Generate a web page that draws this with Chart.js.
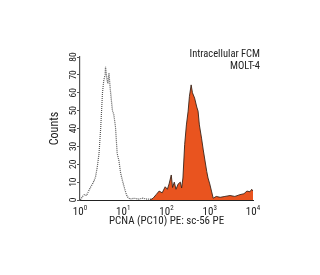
<!DOCTYPE html>
<html>
<head>
<meta charset="utf-8">
<script src="https://cdn.jsdelivr.net/npm/chart.js@4"></script>
<style>
  html, body { margin: 0; padding: 0; background: #fff; }
  #wrap { width: 320px; height: 275px; position: relative; }
</style>
</head>
<body>
<div id="wrap"><canvas id="c" width="320" height="275"></canvas></div>
<script>
// ---- data (x in log10 decades of PE fluorescence) ----
const controlLog    = [0.01, 0.06, 0.10, 0.15, 0.20, 0.24, 0.29, 0.33, 0.36, 0.40, 0.44, 0.48, 0.52, 0.55, 0.58, 0.59, 0.62, 0.645, 0.67, 0.70, 0.75, 0.78, 0.82, 0.86, 0.90, 0.94, 0.98, 1.02, 1.06, 1.09, 1.15, 1.25, 1.35, 1.45, 1.55, 1.65, 1.75, 1.85, 1.95];
const controlCounts = [0,    2,    3,    2.5,  5,    7,    9,    11,   13,   18.6, 26,   41,   60,   67,   70,   74.5, 68,   65,    71,   62,   50,   48,   41,   26,   22,   15,   11,   7.4,  4,    2,    0.5,  1,    0.5,  1,    0.5,  0.5,  0.3,  0.2,  0];

const pcnaLog    = [1.62, 1.69, 1.76, 1.83, 1.90, 1.97, 2.02, 2.06, 2.11, 2.14, 2.18, 2.22, 2.27, 2.32, 2.35, 2.38, 2.42, 2.46, 2.50, 2.53, 2.57, 2.60, 2.65, 2.70, 2.73, 2.76, 2.81, 2.85, 2.88, 2.93, 2.96, 3.00, 3.04, 3.08, 3.15, 3.24, 3.35, 3.47, 3.58, 3.70, 3.79, 3.86, 3.93, 3.97, 4.00];
const pcnaCounts = [0,    1,    3,    5,    4,    7.4,  6,    9,    14,   7,    10,   6,    9,    10,   6.7,  12.3, 31,   42,   49.7, 58,   64.4, 60,   57,   52,   49.7, 42,   34.6, 28,   23.5, 16,   12.3, 9,    5,    1,    2,    1.5,  2,    2.5,  2,    3,    3.5,  5,    4.6,  6,    5];

const xTickExponents = [0, 1, 2, 3, 4];
const yTickValues    = [0, 10, 20, 30, 40, 50, 60, 70, 80];
const annotationLines = ['Intracellular FCM', 'MOLT-4'];
const xTitle = 'PCNA (PC10) PE: sc-56 PE';
const yTitle = 'Counts';

const FONT = "'Liberation Sans Narrow', 'Arial Narrow', 'Roboto Condensed', 'Liberation Sans', sans-serif";

const toPoints = (xs, ys) => xs.map((x, i) => ({ x: x, y: ys[i] }));

const customText = {
  id: 'customText',
  afterDraw(chart) {
    const ctx = chart.ctx;
    const xs = chart.scales.x, ys = chart.scales.y;
    ctx.save();
    ctx.fillStyle = '#222';
    // y tick labels, rotated
    ctx.font = "9.5px " + FONT;
    ctx.textAlign = 'center';
    ctx.textBaseline = 'middle';
    yTickValues.forEach(v => {
      const py = ys.getPixelForValue(v);
      ctx.save();
      ctx.translate(xs.left - 6, py);
      ctx.rotate(-Math.PI / 2);
      ctx.fillText(String(v), 0, 0);
      ctx.restore();
    });
    // x tick labels 10^n
    xTickExponents.forEach(e => {
      const px = xs.getPixelForValue(e);
      ctx.font = "11px " + FONT;
      const wBase = ctx.measureText('10').width;
      ctx.font = "7px " + FONT;
      const wExp = ctx.measureText(String(e)).width;
      const start = px - (wBase + wExp) / 2;
      ctx.textAlign = 'left';
      ctx.textBaseline = 'alphabetic';
      ctx.font = "11px " + FONT;
      ctx.fillText('10', start, ys.bottom + 15);
      ctx.font = "7px " + FONT;
      ctx.fillText(String(e), start + wBase, ys.bottom + 10);
    });
    // annotation, top right
    ctx.font = "10.5px " + FONT;
    ctx.textAlign = 'right';
    ctx.textBaseline = 'middle';
    annotationLines.forEach((t, i) => ctx.fillText(t, 260, 54 + i * 12));
    ctx.restore();
  }
};

new Chart(document.getElementById('c'), {
  type: 'line',
  data: {
    datasets: [
      {
        label: 'PCNA (PC10) PE',
        data: toPoints(pcnaLog, pcnaCounts),
        borderColor: '#3a2418',
        borderWidth: 0.9,
        backgroundColor: '#E9541F',
        fill: 'origin',
        pointRadius: 0,
        tension: 0
      },
      {
        label: 'Control',
        data: toPoints(controlLog, controlCounts),
        borderColor: '#555',
        borderWidth: 1.2,
        borderDash: [1, 1],
        fill: false,
        pointRadius: 0,
        tension: 0
      }
    ]
  },
  options: {
    responsive: false,
    animation: false,
    devicePixelRatio: 1,
    layout: { padding: { left: 48, right: 67, top: 57, bottom: 47 } },
    plugins: { legend: { display: false }, tooltip: { enabled: false }, title: { display: false } },
    scales: {
      x: {
        type: 'linear',
        min: 0, max: 4,
        grid: { display: false },
        border: { display: true, color: '#222', width: 1 },
        ticks: { display: false },
        title: { display: true, text: xTitle, color: '#222', font: { family: FONT, size: 11 }, padding: 0 },
        afterFit(s) { s.height = 28; }
      },
      y: {
        type: 'linear',
        min: 0, max: 80,
        grid: { display: true, drawOnChartArea: false, tickLength: 3, color: '#555' },
        border: { display: true, color: '#555', width: 1.2, dash: [1, 1] },
        ticks: { display: false, stepSize: 10 },
        title: { display: true, text: yTitle, color: '#222', font: { family: FONT, size: 12 }, padding: 0 },
        afterFit(s) { s.width = 32; }
      }
    }
  },
  plugins: [customText]
});
</script>
</body>
</html>
